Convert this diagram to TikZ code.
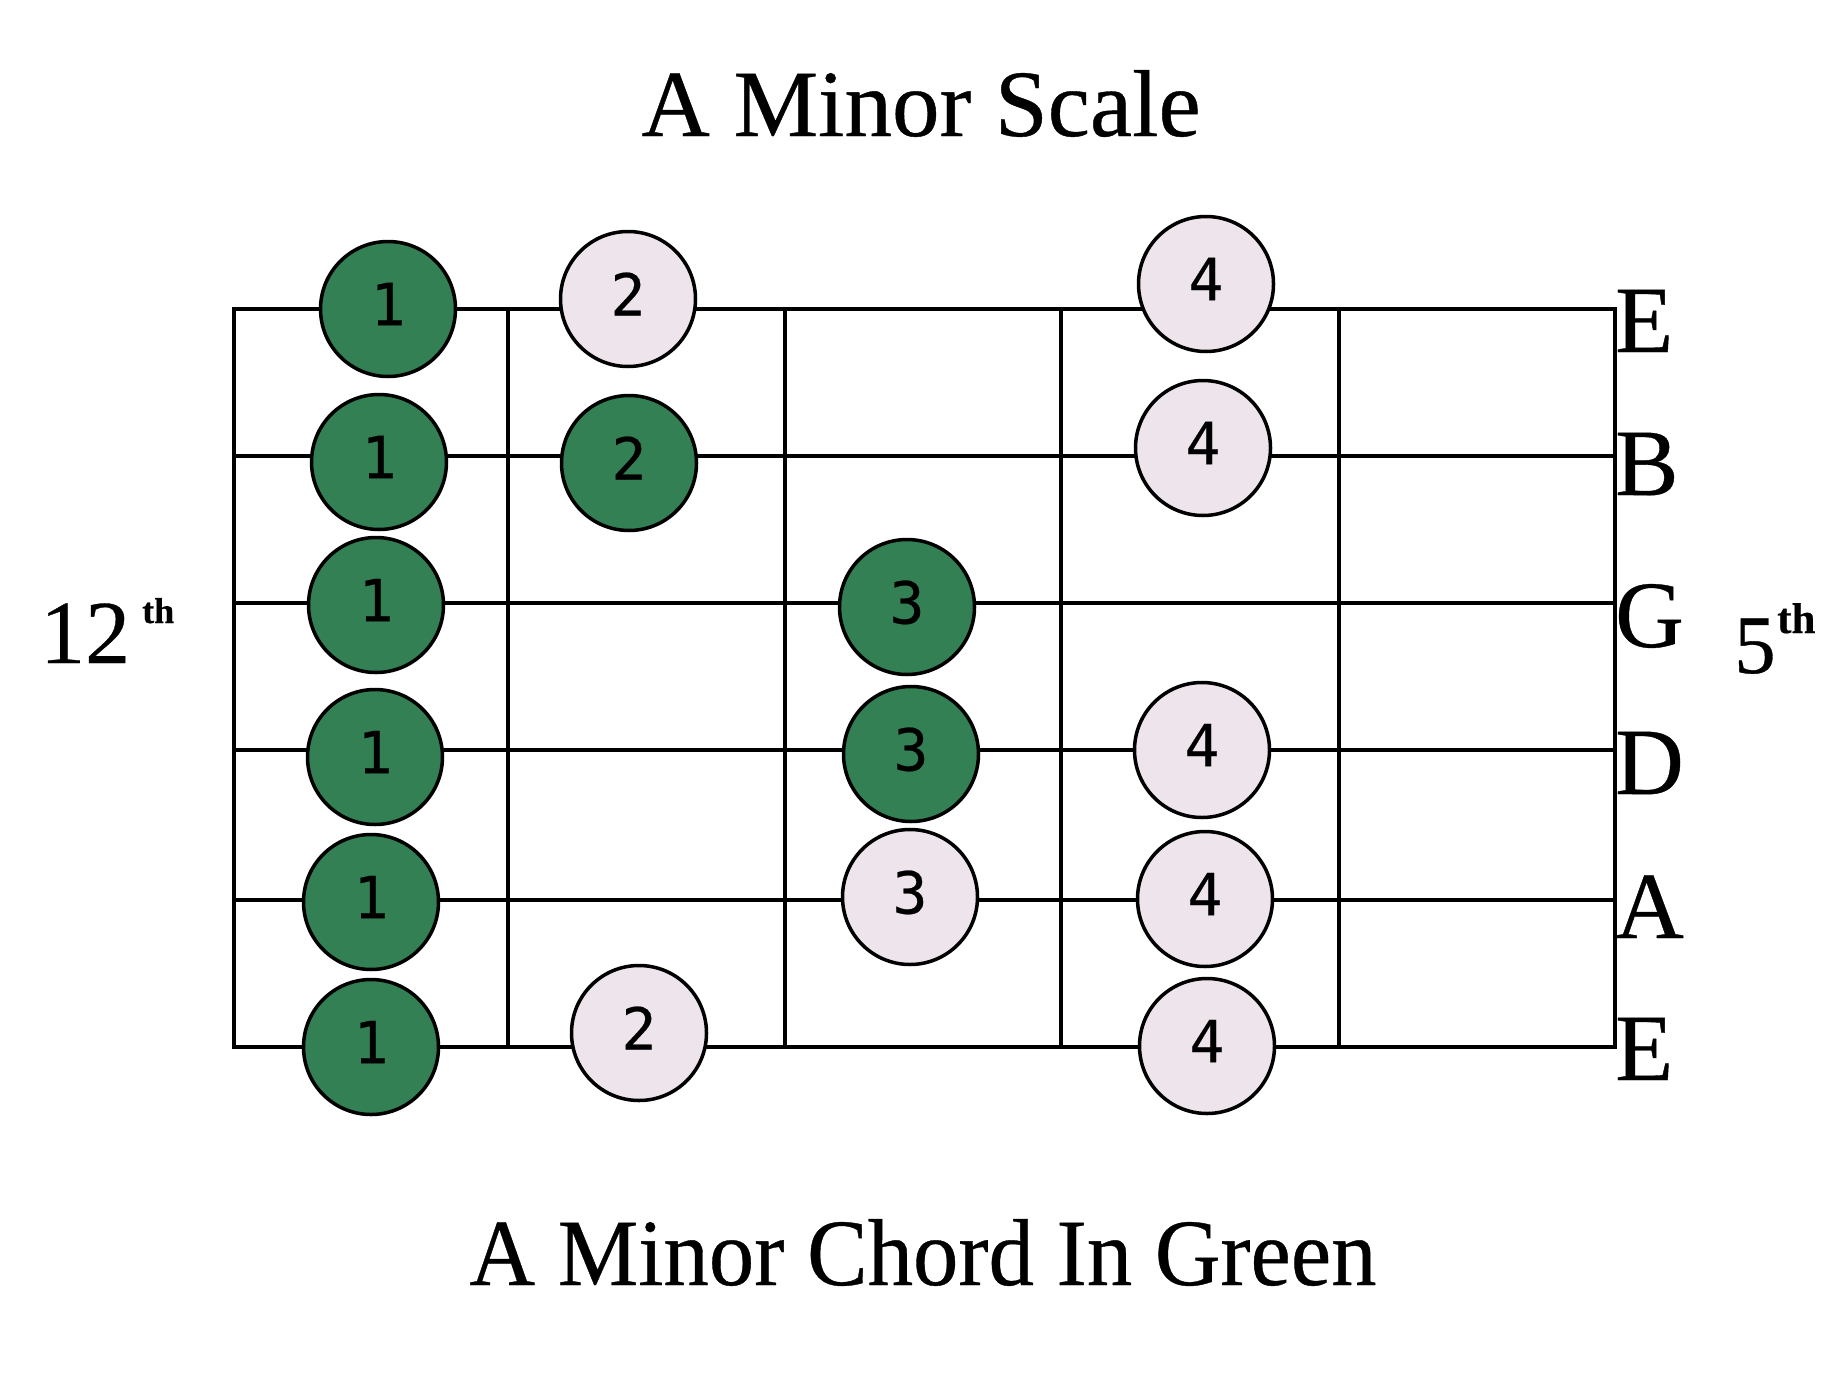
\documentclass[tikz,border=0pt]{standalone}
\usepackage{fontspec}
\usepackage{graphicx}
\setmainfont{Liberation Serif}[FakeBold=0.4]
\newfontfamily\scanfont{Liberation Serif}[FakeBold=0.4]
\newfontfamily\digitfont{DejaVu Sans Mono}[FakeBold=0.4]
\definecolor{chordgreen}{RGB}{50,128,84}
\definecolor{scalepink}{RGB}{238,228,236}
\begin{document}
\begin{tikzpicture}[x=1pt,y=-1pt,
  fretline/.style={line width=4pt,line cap=rect},
  notebase/.style={circle,draw=black,line width=3.5pt,minimum size=135pt,inner sep=0pt,
     font=\digitfont\fontsize{58}{60}\selectfont,text depth=10pt},
  chordnote/.style={notebase,fill=chordgreen},
  scalenote/.style={notebase,fill=scalepink},
  bigtext/.style={font=\scanfont\fontsize{95}{100}\selectfont,inner sep=0pt},
  strlabel/.style={font=\scanfont\fontsize{95}{100}\selectfont,inner sep=0pt,anchor=base west}]
\useasboundingbox (0,0) rectangle (1848,1384);
\fill[white] (0,0) rectangle (1848,1384);

% fretboard
\draw[fretline] (234,309) rectangle (1615,1047);
\foreach \yy in {456,603,750,900} \draw[fretline] (234,\yy) -- (1615,\yy);
\foreach \xx in {508,785,1061,1339} \draw[fretline] (\xx,309) -- (\xx,1047);

% titles
\node[bigtext,anchor=base] (title) at (921,136) {A Minor Scale};
\node[bigtext,anchor=base] (subtitle) at (923,1285) {\scalebox{0.955}[1]{A Minor Chord In Green}};

% fret position labels
\node[inner sep=0pt,anchor=base west,font=\scanfont\fontsize{90}{90}\selectfont] (twelve) at (40,663) {12};
\node[inner sep=0pt,anchor=base west,font=\scanfont\bfseries\fontsize{36}{40}\selectfont] (twelveth) at (142,623) {th};
\node[inner sep=0pt,anchor=base west,font=\scanfont\fontsize{83}{85}\selectfont] (five) at (1734,673) {5};
\node[inner sep=0pt,anchor=base west,font=\scanfont\bfseries\fontsize{43}{46}\selectfont] (fiveth) at (1777,633) {th};

% string labels
\node[strlabel] (sE1) at (1615,352) {E};
\node[strlabel] (sB) at (1615,495) {B};
\node[strlabel] (sG) at (1615,647) {G};
\node[strlabel] (sD) at (1615,794) {D};
\node[strlabel] (sA) at (1615,938) {A};
\node[strlabel] (sE6) at (1615,1080) {E};

% notes: high E
\node[chordnote] (e1a) at (388,309) {1};
\node[scalenote] (e1b) at (628,299) {2};
\node[scalenote] (e1c) at (1206,284) {4};
% B
\node[chordnote] (ba) at (379,462) {1};
\node[chordnote] (bb) at (629,463) {2};
\node[scalenote] (bc) at (1203,448) {4};
% G
\node[chordnote] (ga) at (376,605) {1};
\node[chordnote] (gb) at (907,607) {3};
% D
\node[chordnote] (da) at (375,757) {1};
\node[chordnote] (db) at (911,754) {3};
\node[scalenote] (dc) at (1202,750) {4};
% A
\node[chordnote] (aa) at (371,902) {1};
\node[scalenote] (ab) at (910,897) {3};
\node[scalenote] (ac) at (1205,899) {4};
% low E
\node[chordnote] (e6a) at (371,1047) {1};
\node[scalenote] (e6b) at (639,1033) {2};
\node[scalenote] (e6c) at (1207,1046) {4};
\end{tikzpicture}
\end{document}
